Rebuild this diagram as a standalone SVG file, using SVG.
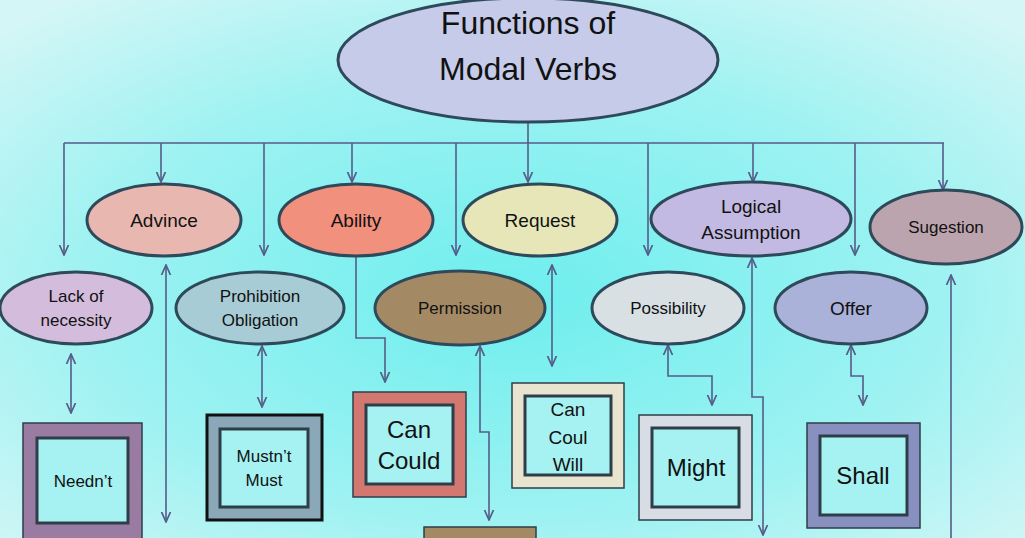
<svg xmlns="http://www.w3.org/2000/svg" width="1025" height="538" viewBox="0 0 1025 538">
<defs>
<radialGradient id="bg" cx="0.5" cy="0.55" r="0.7">
<stop offset="0" stop-color="#6eeeee"/><stop offset="0.6" stop-color="#9ff2f2"/><stop offset="1" stop-color="#d4f6f6"/>
</radialGradient>
<marker id="ah" viewBox="0 0 10 10" refX="9" refY="5" markerWidth="7" markerHeight="7" orient="auto-start-reverse"><path d="M0,1 L9,5 L0,9" fill="none" stroke="#555c88" stroke-width="1.5"/></marker>
<style>
.e{stroke:#2e4a5a;stroke-width:3}
.o{stroke:#2e3e48;stroke-width:1.5}
.i{fill:#a6f2f2;stroke:#2e3e48;stroke-width:3}
.c{fill:none;stroke:#555c88;stroke-width:1.6}
.a{marker-end:url(#ah)}
.b{marker-start:url(#ah);marker-end:url(#ah)}
text{font-family:"Liberation Sans",Arial,sans-serif;fill:#111;text-anchor:middle}
.t{font-size:19px}.s{font-size:17px}.g{font-size:24px}
</style>
</defs>
<rect width="1025" height="538" fill="url(#bg)"/>
<g id="connectors">
<path class="c" d="M528,122 V143 M64,143 H944"/>
<path class="c a" d="M64,143 V255"/><path class="c a" d="M161,143 V182"/><path class="c a" d="M264,143 V255"/>
<path class="c a" d="M352,143 V182"/><path class="c a" d="M456,143 V255"/><path class="c a" d="M528,143 V182"/>
<path class="c a" d="M648,143 V255"/><path class="c a" d="M753,143 V182"/><path class="c a" d="M855,143 V255"/>
<path class="c a" d="M943,143 V190"/>
<path class="c b" d="M71,354 V413"/><path class="c b" d="M166,265 V522"/><path class="c b" d="M262,346 V407"/>
<path class="c a" d="M356,256 V338 H385 V382"/>
<path class="c b" d="M480,346 V432 H489 V520"/>
<path class="c b" d="M552,265 V366"/>
<path class="c b" d="M668,345 V376 H712 V405"/>
<path class="c b" d="M752,258 V397 H763 V535"/>
<path class="c b" d="M851,345 V376 H863 V405"/>
<path class="c a" d="M951,538 V275"/>
</g>
<g id="title"><ellipse class="e" cx="528" cy="60" rx="190" ry="62" fill="#c6cbea"/><text x="528" y="34" style="font-size:32px">Functions of</text><text x="528" y="80" style="font-size:32px">Modal Verbs</text></g>
<g id="advince"><ellipse class="e" cx="164" cy="220" rx="77" ry="36" fill="#e8b8b0"/><text class="t" x="164" y="227">Advince</text></g>
<g id="ability"><ellipse class="e" cx="356" cy="220" rx="77" ry="36" fill="#f2907e"/><text class="t" x="356" y="227">Ability</text></g>
<g id="request"><ellipse class="e" cx="540" cy="220" rx="77" ry="36" fill="#e6e6b8"/><text class="t" x="540" y="227">Request</text></g>
<g id="logical"><ellipse class="e" cx="751" cy="219" rx="100" ry="37" fill="#c2bae2"/><text class="t" x="751" y="213">Logical</text><text class="t" x="751" y="239">Assumption</text></g>
<g id="sugestion"><ellipse class="e" cx="946" cy="227" rx="76" ry="37" fill="#bca4ae"/><text class="s" x="946" y="233">Sugestion</text></g>
<g id="lack"><ellipse class="e" cx="76" cy="308" rx="76" ry="36" fill="#d4bcdc"/><text class="s" x="76" y="302">Lack of</text><text class="s" x="76" y="326">necessity</text></g>
<g id="prohibition"><ellipse class="e" cx="260" cy="308" rx="84" ry="36" fill="#a8ccd6"/><text class="s" x="260" y="302">Prohibition</text><text class="s" x="260" y="326">Obligation</text></g>
<g id="permission"><ellipse class="e" cx="460" cy="308" rx="85" ry="37" fill="#a48a64"/><text class="s" x="460" y="314">Permission</text></g>
<g id="possibility"><ellipse class="e" cx="668" cy="308" rx="76" ry="36" fill="#d8e0e4"/><text class="s" x="668" y="314">Possibility</text></g>
<g id="offer"><ellipse class="e" cx="851" cy="308" rx="76" ry="36" fill="#aab2da"/><text class="t" x="851" y="315">Offer</text></g>
<g id="neednt"><rect class="o" x="23" y="423" width="119" height="130" fill="#9a7ca2"/><rect class="i" x="37" y="438" width="91" height="85" stroke-width="2"/><text class="s" x="83" y="487">Needn’t</text></g>
<g id="mustnt"><rect x="207" y="415" width="115" height="105" fill="#8aa8b8" stroke="#111" stroke-width="3"/><rect class="i" x="220" y="429" width="88" height="78" stroke="#111"/><text class="s" x="264" y="462">Mustn’t</text><text class="s" x="264" y="486">Must</text></g>
<g id="cancould"><rect class="o" x="353" y="392" width="113" height="105" fill="#d27870"/><rect class="i" x="366" y="405" width="87" height="79"/><text class="g" x="409" y="438">Can</text><text class="g" x="409" y="469">Could</text></g>
<g id="cancoulwill"><rect class="o" x="512" y="383" width="112" height="105" fill="#e8e4d0"/><rect class="i" x="525" y="396" width="86" height="79"/><text class="t" x="568" y="416">Can</text><text class="t" x="568" y="444">Coul</text><text class="t" x="568" y="471">Will</text></g>
<g id="might"><rect class="o" x="639" y="415" width="113" height="105" fill="#d8dce4"/><rect class="i" x="652" y="428" width="87" height="79"/><text class="g" x="696" y="476">Might</text></g>
<g id="shall"><rect class="o" x="807" y="423" width="113" height="105" fill="#8890c0"/><rect class="i" x="820" y="436" width="87" height="79"/><text class="g" x="863" y="484">Shall</text></g>
<g id="bottombox"><rect class="o" x="424" y="527" width="112" height="14" fill="#a48a64"/></g>
</svg>
